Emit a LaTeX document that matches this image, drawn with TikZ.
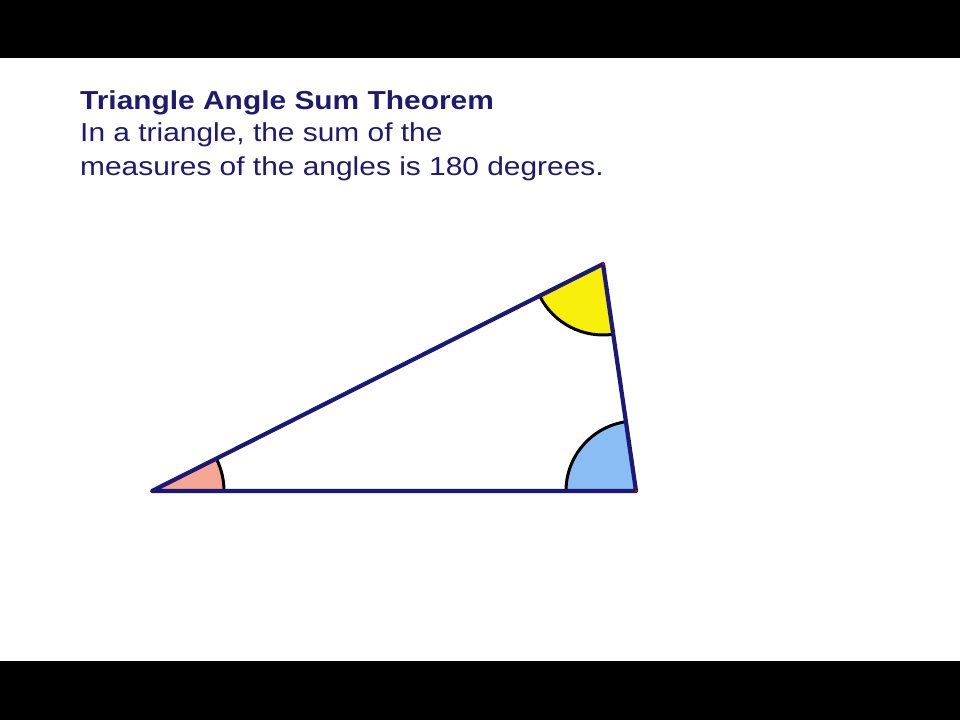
\documentclass[tikz,border=0pt]{standalone}
\usepackage{fontspec}
\usepackage{graphicx}
\setmainfont{Liberation Sans}
\definecolor{navy}{HTML}{1C1878}
\definecolor{txt}{HTML}{1E1A6E}
\definecolor{salmon}{HTML}{F6A794}
\definecolor{skyb}{HTML}{8BBDF5}
\definecolor{yel}{HTML}{F7EE0A}
\tikzset{
  txtline/.style={anchor=base west, inner sep=0pt, text=txt, font=\fontsize{26}{30}\selectfont},
  side/.style={draw=navy, line width=4.2pt, line cap=round, line join=round},
  arcline/.style={draw=black, line width=3pt},
  bar/.style={fill=black, draw=none}
}
\begin{document}
\begin{tikzpicture}[x=1pt,y=1pt]
\useasboundingbox (0,0) rectangle (960,720);
\fill[white] (0,0) rectangle (960,720);
\fill[bar] (0,662) rectangle (960,720);
\fill[bar] (0,0) rectangle (960,59);
\node[txtline] (title) at (80,610) {\scalebox{1.15}[1]{\bfseries Triangle Angle Sum Theorem}};
\node[txtline] (l1) at (80,578) {\scalebox{1.15}[1]{In a triangle, the sum of the}};
\node[txtline] (l2) at (80,544) {\scalebox{1.15}[1]{measures of the angles is 180 degrees.}};
\coordinate (A) at (152,229);
\coordinate (B) at (636,229);
\coordinate (C) at (603,456);
% angle sectors
\fill[salmon] (A) -- ++(0:72) arc[start angle=0, end angle=26.72, radius=72] -- cycle;
\draw[arcline] (A) ++(0:72) arc[start angle=0, end angle=26.72, radius=72];
\fill[skyb] (B) -- ++(98.27:70) arc[start angle=98.27, end angle=180, radius=70] -- cycle;
\draw[arcline] (B) ++(98.27:70) arc[start angle=98.27, end angle=180, radius=70];
\fill[yel] (C) -- ++(206.72:71) arc[start angle=206.72, end angle=278.27, radius=71] -- cycle;
\draw[arcline] (C) ++(206.72:71) arc[start angle=206.72, end angle=278.27, radius=71];
% triangle
\draw[side] (A) -- (B) -- (C) -- cycle;
\fill[red!80!black] (B) circle (1.6);
\fill[red!80!black] (C) circle (1.6);
\end{tikzpicture}
\end{document}
